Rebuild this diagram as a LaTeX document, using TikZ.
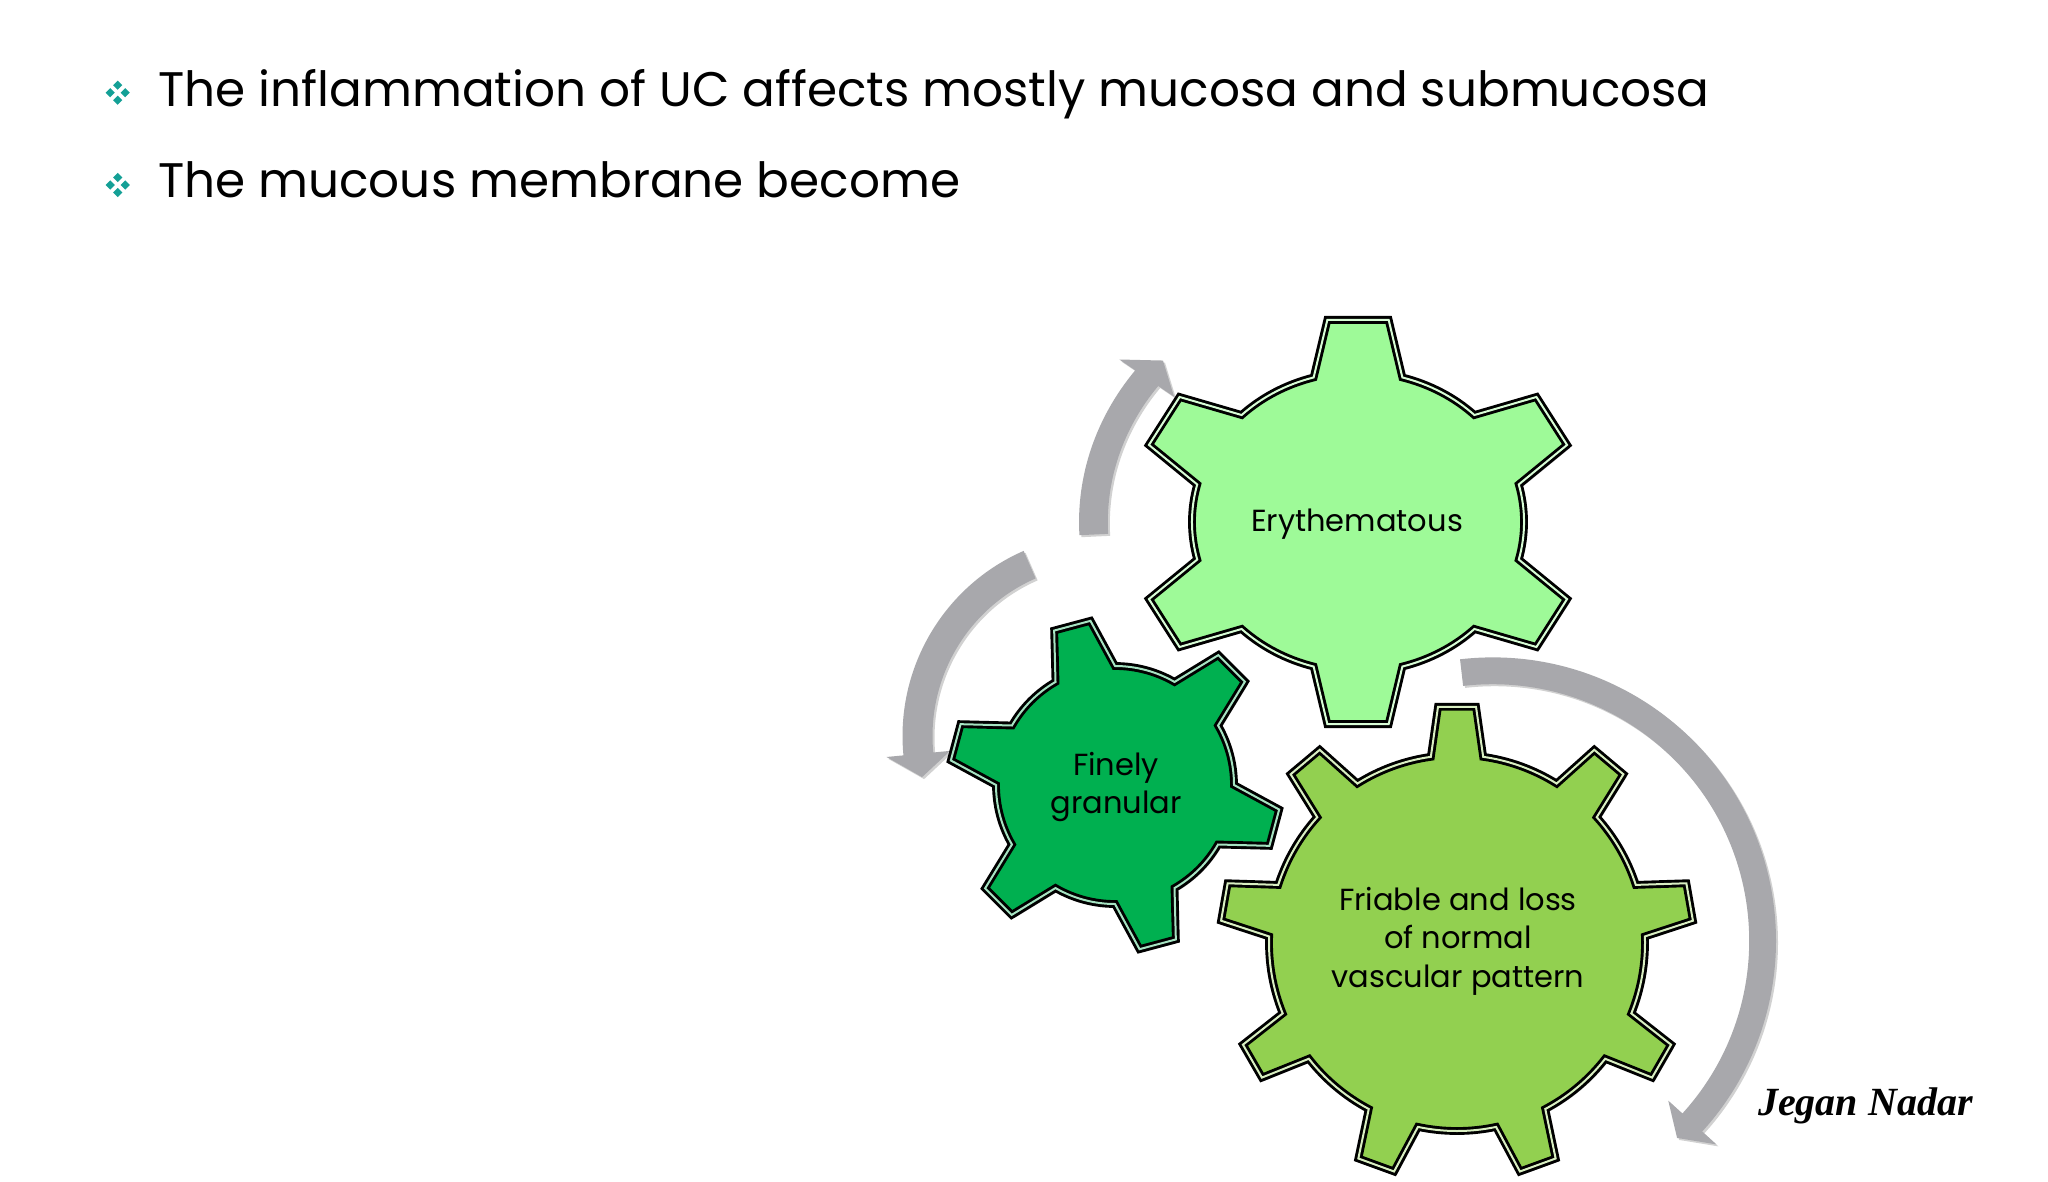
\documentclass[tikz,border=0pt]{standalone}
\usepackage{fontspec}
\setmainfont{Poppins}
\newfontfamily\sigfont{Liberation Serif}
\usetikzlibrary{shadows}
\definecolor{eryfill}{RGB}{158,250,152}
\definecolor{finefill}{RGB}{0,176,80}
\definecolor{friafill}{RGB}{146,208,80}
\definecolor{arrowgray}{RGB}{168,168,172}
\definecolor{bullteal}{RGB}{20,160,150}
% #1 teeth, #2 first tooth angle, #3 root radius, #4 tip radius, #5 base half-angle, #6 tip half-angle
\newcommand\gearpath[6]{({#2-#5}:#3)
  \foreach \k [evaluate=\k as \t using {#2+(\k-1)*360/#1}] in {1,...,#1} {
    -- ({\t-#6}:#4) -- ({\t+#6}:#4) -- ({\t+#5}:#3)
    arc[start angle={\t+#5}, end angle={\t+360/#1-#5}, radius=#3]
  } -- cycle}
% #1 start angle, #2 head base angle, #3 tip angle, #4 mid radius, #5 half width, #6 head half width
\newcommand\arcarrowpath[6]{({#1}:{#4+#5})
  arc[start angle=#1, end angle=#2, radius={#4+#5}]
  -- ({#2}:{#4+#6}) -- ({#3}:{#4}) -- ({#2}:{#4-#6}) -- ({#2}:{#4-#5})
  arc[start angle=#2, end angle=#1, radius={#4-#5}] -- cycle}
\tikzset{
  gearbox/.style={draw=black, line width=2.9pt, double distance=2pt, line join=miter,
    drop shadow={shadow xshift=3pt, shadow yshift=-3pt, opacity=0.3, fill=black}},
  grayarrow/.style={fill=arrowgray, draw=none,
    drop shadow={shadow xshift=2pt, shadow yshift=-2pt, opacity=0.18, fill=black}},
  bullettxt/.style={anchor=base west, inner sep=0pt, font=\fontsize{48.5}{58}\selectfont},
  geartxt/.style={align=center, inner sep=0pt, text=black, font=\fontsize{30.5}{38.5}\selectfont},
  diam/.style={fill=bullteal, draw=none}
}
\newcommand\bulletmark[2]{%
  \foreach \dx/\dy in {0/7.5, -7.5/0, 7.5/0, 0/-7.5}{
    \fill[diam] ({#1+\dx+4.6},{#2+\dy}) -- ({#1+\dx},{#2+\dy+4.6}) -- ({#1+\dx-4.6},{#2+\dy}) -- ({#1+\dx},{#2+\dy-4.6}) -- cycle;
  }}
\begin{document}
\begin{tikzpicture}[x=1pt, y=1pt]
\fill[white] (0,0) rectangle (2048,-1182);
\useasboundingbox (0,0) rectangle (2048,-1182);

% bullets and text
\bulletmark{117.7}{-92.7}
\bulletmark{117.7}{-185}
\node[bullettxt] (l1) at (158,-107) {The inflammation of UC affects mostly mucosa and submucosa};
\node[bullettxt] (l2) at (158,-198) {The mucous membrane become};

% arrows
\begin{scope}[shift={(1358,-522)}, xscale=1.107]
  \path[grayarrow] \arcarrowpath{183}{143}{137.5}{239}{13}{31};
\end{scope}
\begin{scope}[shift={(1104.5,-736)}]
  \path[grayarrow] \arcarrowpath{113.6}{185.5}{192.7}{187}{15}{32};
\end{scope}
\begin{scope}[shift={(1492.6,-940.8)}]
  \path[grayarrow] \arcarrowpath{96.6}{-42.3}{-46.9}{270}{13.4}{32.5};
\end{scope}

% gears
\begin{scope}[shift={(1457,-943)}]
  \path[gearbox, fill=friafill, double=friafill!35!white] \gearpath{9}{90}{188}{237}{8}{4.6};
\end{scope}
\begin{scope}[shift={(1115,-785)}]
  \path[gearbox, fill=finefill, double=finefill!35!white] \gearpath{6}{105}{119}{166}{15}{6.5};
\end{scope}
\begin{scope}[shift={(1358,-522)}, xscale=1.107]
  \path[gearbox, fill=eryfill, double=eryfill!40!white] \gearpath{6}{30}{150}{204}{15.5}{7.8};
\end{scope}

% gear texts
\node[geartxt] (ery) at (1357,-524) {Erythematous};
\node[geartxt] (fine) at (1116,-787) {Finely\\granular};
\node[geartxt] (fria) at (1458,-941) {Friable and loss\\of normal\\vascular pattern};

% signature
\node[anchor=west, inner sep=0pt, font=\sigfont\bfseries\itshape\fontsize{40}{50}\selectfont] (sig) at (1758,-1106) {Jegan Nadar};
\end{tikzpicture}
\end{document}
